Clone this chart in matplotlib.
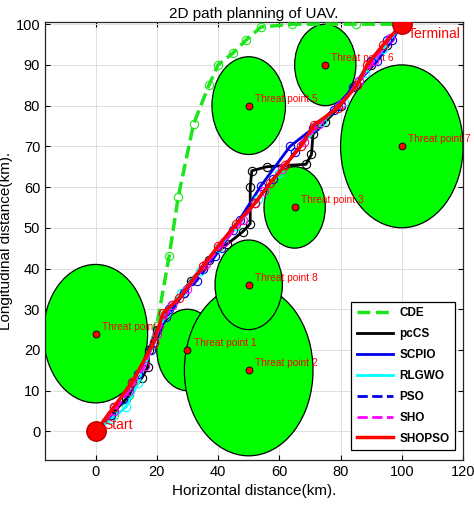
import numpy as np
import matplotlib
matplotlib.use('Agg')
import matplotlib.pyplot as plt
from matplotlib.patches import Circle

plt.rcParams['font.family'] = ['Liberation Sans', 'DejaVu Sans']

# threat areas
threat_x = [30, 50, 65, 0, 50, 75, 100, 50]
threat_y = [20, 15, 55, 24, 80, 90, 70, 36]
threat_r = [10, 21, 10, 17, 12, 10, 20, 11]
threat_names = ['Threat point %d' % (i + 1) for i in range(8)]

start = (0, 0)
terminal = (100, 100)

# paths
cde_x = [0, 6, 11, 16, 20, 24, 27, 32, 37, 40, 45, 49, 54, 64, 85, 100]
cde_y = [0, 4, 9, 17, 26, 43, 57.6, 75.5, 85, 90, 93, 96, 99.3, 100, 100, 100]

pccs_x = [0, 5, 10, 15, 17, 17.5, 20, 25, 31, 37, 43, 48, 50.5, 50.5, 51, 56, 68.7, 70.5, 71, 75, 80, 85, 90, 95, 100]
pccs_y = [0, 4, 8, 13, 15.7, 20, 25, 31, 37, 42, 46, 49, 51, 60, 64, 65, 65.6, 68, 73, 76, 80, 85, 90, 95, 100]

scpio_x = [0, 6, 12, 18, 23, 29, 35, 41, 47, 54, 63.5, 72, 79, 86, 92, 96.8, 100]
scpio_y = [0, 6, 12, 20, 28, 34, 40, 45, 52, 60.3, 70, 75, 80, 86, 91, 96, 100]

rlgwo_x = [0, 5, 10, 14, 19, 23, 28, 34, 40, 46, 53, 60, 67, 74, 81, 88, 94, 100]
rlgwo_y = [0, 3, 6, 12, 22, 29, 34, 39.5, 45, 50.5, 57, 63.5, 70, 76, 81, 88, 94, 100]

pso_x = [0, 5, 9, 14, 19, 24, 29, 33, 39, 45, 52, 58, 65, 71, 78, 84, 90, 95, 100]
pso_y = [0, 4, 8, 14, 22, 30, 34, 37, 43, 49.5, 56, 62, 68.5, 74.5, 79, 84.5, 91, 96, 100]

sho_x = [0, 6, 11, 16, 20, 25, 30, 36, 42, 48, 55, 61, 68, 73, 80, 86, 91, 96, 100]
sho_y = [0, 5, 10, 16, 24, 31, 35, 41, 46.5, 52, 59, 64.5, 71, 75.5, 80.5, 86, 91, 96.5, 100]

shopso_x = [0, 6, 12, 19, 22, 27.4, 35, 40, 46, 52, 57, 62, 67, 71.3, 79, 85.4, 88.6, 94, 100]
shopso_y = [0, 6, 12.2, 21.8, 29, 32.8, 40.5, 45.5, 51, 56, 61, 65.5, 70, 75.2, 79.4, 85, 90, 95, 100]

paths = [
    ('CDE', cde_x, cde_y, (0.1, 0.9, 0.1), '--', 2.5),
    ('pcCS', pccs_x, pccs_y, 'k', '-', 2.0),
    ('SCPIO', scpio_x, scpio_y, (0, 0, 0.9), '-', 2.0),
    ('RLGWO', rlgwo_x, rlgwo_y, (0, 1, 1), '-', 2.0),
    ('PSO', pso_x, pso_y, (0, 0, 0.9), '--', 2.0),
    ('SHO', sho_x, sho_y, (1, 0, 1), '--', 2.0),
    ('SHOPSO', shopso_x, shopso_y, (1, 0, 0), '-', 2.5),
]


def main():
    fig = plt.figure(figsize=(4.74, 5.15), dpi=100)
    ax = fig.add_axes([0.095, 0.107, 0.882, 0.85])

    for i in range(len(threat_x)):
        c = Circle((threat_x[i], threat_y[i]), threat_r[i], facecolor=(0, 1, 0),
                   edgecolor='k', linewidth=0.9, zorder=2)
        ax.add_patch(c)
    for i in range(len(threat_x)):
        ax.plot(threat_x[i], threat_y[i], 'o', color='r', markeredgecolor='k',
                markersize=5, markeredgewidth=0.6, zorder=3)
        ax.text(threat_x[i] + 2, threat_y[i] + 1, threat_names[i], color='r',
                fontsize=7.3, zorder=3)

    for name, x, y, col, ls, lw in paths:
        ax.plot(x, y, ls, color=col, linewidth=lw, label=name, zorder=4)
        ax.plot(x, y, 'o', color=col, markerfacecolor='none', markersize=6,
                markeredgewidth=0.8, zorder=4)

    ax.plot(*start, 'o', color='r', markersize=14, markeredgecolor=(0.7, 0, 0), zorder=5)
    ax.plot(*terminal, 'o', color='r', markersize=14, markeredgecolor=(0.7, 0, 0), zorder=5)
    ax.text(start[0] + 2.5, start[1] + 0.5, 'Start', color='r', fontsize=10, zorder=6)
    ax.text(terminal[0] + 2, terminal[1] - 3.5, 'Terminal', color='r', fontsize=10, zorder=6)

    ax.set_xlim(-16.5, 120)
    ax.set_ylim(-7, 100.5)
    ax.set_xticks(range(0, 121, 20))
    ax.set_yticks(range(0, 101, 10))
    ax.tick_params(direction='in', top=True, right=True, labelsize=10.5)
    ax.grid(True, color=(0.87, 0.87, 0.87), linewidth=0.7)
    ax.set_axisbelow(True)
    for s in ax.spines.values():
        s.set_linewidth(0.9)
        s.set_color((0.15, 0.15, 0.15))

    ax.set_title('2D path planning of UAV.', fontsize=11, pad=3)
    ax.set_xlabel('Horizontal distance(km).', fontsize=11)
    ax.set_ylabel('Longitudinal distance(km).', fontsize=11, labelpad=2)

    leg = ax.legend(loc='lower right', bbox_to_anchor=(0.98, 0.023), borderaxespad=0,
                    handlelength=3.1, handletextpad=0.5,
                    prop={'weight': 'bold', 'size': 8.5}, fancybox=False,
                    framealpha=1, edgecolor='k', borderpad=0.45, labelspacing=0.75)
    leg.get_frame().set_linewidth(0.9)

    fig.savefig('out.png', dpi=100)


if __name__ == '__main__':
    main()
